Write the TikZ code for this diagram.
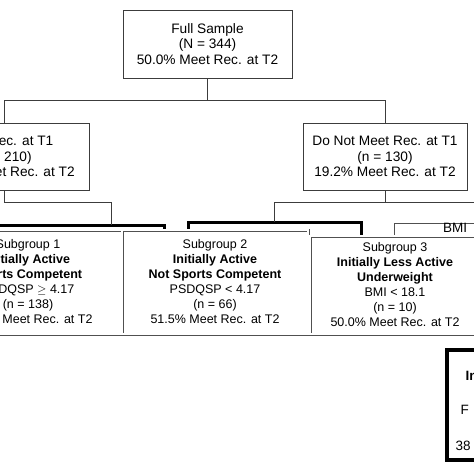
\documentclass[tikz,border=0pt]{standalone}
\usepackage{fontspec}
\setmainfont{Liberation Sans}
\definecolor{linegray}{HTML}{3C3C3C}
\definecolor{subgray}{HTML}{505050}

\begin{document}
\begin{tikzpicture}[
    x=1pt, y=-1pt,
    treebox/.style={draw=linegray, line width=1pt, fill=white, align=center,
        inner sep=0pt, font=\fontsize{13.7}{15.5}\selectfont},
    subbox/.style={draw=subgray, line width=0.9pt, double=white,
        double distance=1.2pt, fill=white, align=center, inner sep=0pt,
        minimum height=104pt, font=\fontsize{12.5}{15}\selectfont},
    endbox/.style={draw=black, line width=3pt, inner sep=0pt, outer sep=0pt,
        anchor=north west},
    branch/.style={draw=linegray, line width=1pt},
    small text/.style={font=\fontsize{13.5}{15}\selectfont},
    every node/.style={text=black}
    ]
    \useasboundingbox (0,0) rectangle (474,474);
    \clip (0,0) rectangle (474,474);
    % first and second level
    \node[treebox, minimum width=169pt, minimum height=68pt] (full) at (207.5,44)
        {Full Sample\\(N = 344)\\50.0\% Meet Rec. at T2};
    \node[treebox, minimum width=170pt, minimum height=67pt] (meet) at (4,156.5)
        {Meet Rec. at T1\\(n = 210)\\70.0\% Meet Rec. at T2};
    \node[treebox, minimum width=164pt, minimum height=67pt] (notmeet) at (385,156.5)
        {Do Not Meet Rec. at T1\\(n = 130)\\19.2\% Meet Rec. at T2};
    % bold frames behind the subgroups
    \node[endbox, minimum width=224pt, minimum height=75pt] (frameA) at (-60,225) {};
    \node[endbox, minimum width=173pt, minimum height=75pt] (frameB) at (188,222) {};
    \node[draw=subgray, line width=0.9pt, fill=white, anchor=north west,
        minimum width=122pt, minimum height=100pt] (bmibox) at (394,223) {};
    % third level
    \node[subbox, minimum width=188pt] (sgone) at (28,282)
        {Subgroup 1\\\textbf{Initially Active}\\\textbf{Sports Competent}\\
         PSDQSP \ensuremath{\geq} 4.17\\(n = 138)\\81.9\% Meet Rec. at T2};
    \node[subbox, minimum width=186pt] (sgtwo) at (215,282)
        {Subgroup 2\\\textbf{Initially Active}\\\textbf{Not Sports Competent}\\
         PSDQSP < 4.17\\(n = 66)\\51.5\% Meet Rec. at T2};
    \node[subbox, minimum width=170pt, minimum height=98pt] (sgthree) at (395,285)
        {Subgroup 3\\\textbf{Initially Less Active}\\\textbf{Underweight}\\
         BMI < 18.1\\(n = 10)\\50.0\% Meet Rec. at T2};
    \node[small text, anchor=north, inner sep=0.5pt] (bmi) at (455,222.5) {BMI};
    % frame at the bottom right
    \node[endbox, line width=4pt, minimum width=100pt, minimum height=110pt]
        (frameC) at (447,350) {};
    \node[font=\fontsize{13.5}{15}\selectfont\bfseries, anchor=base west]
        (restA) at (462,380) {In};
    \node[small text, anchor=base west] (restB) at (457,414) {F};
    \node[small text, anchor=base west] (restC) at (452,450) {38};
    % connectors
    \draw[branch] (full.south) -- ++(0,22) coordinate (split) -| (meet.north);
    \draw[branch] (split) -| (notmeet.north);
    \coordinate (sgonein) at (111,225);
    \draw[branch] (meet.south) -- ++(0,12) -| (sgonein);
    \coordinate (nextin) at (520,225);
    \draw[branch] (notmeet.south) -- ++(0,12) coordinate (rsplit) -| (frameB.north);
    \draw[branch] (rsplit) -| (nextin);
\end{tikzpicture}
\end{document}
